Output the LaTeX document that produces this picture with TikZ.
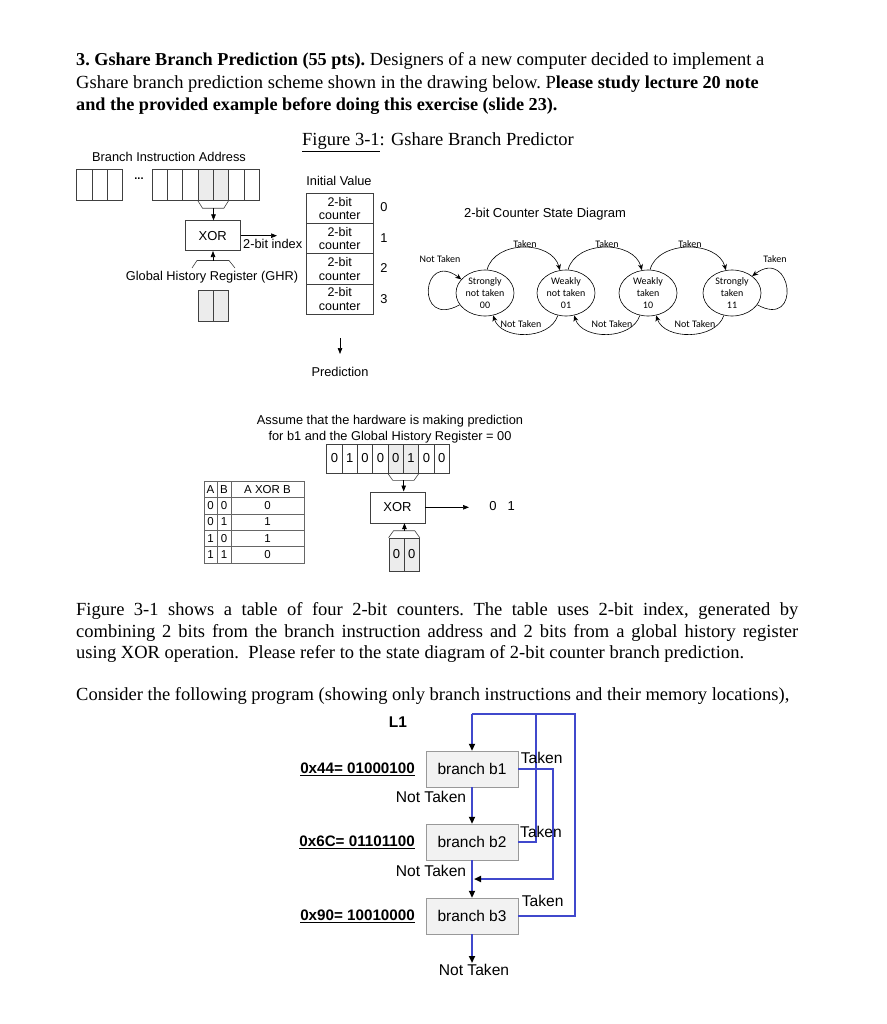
\documentclass[tikz,border=0pt]{standalone}
\usepackage{fontspec}
\setmainfont{Liberation Serif}
\setsansfont{Liberation Sans}
\newfontfamily\statefont{Carlito}
\usetikzlibrary{arrows.meta,calc,shapes.geometric}

\definecolor{shade}{RGB}{236,236,236}
\definecolor{boxfill}{RGB}{242,242,242}
\definecolor{linkblue}{RGB}{64,72,204}

\newcommand{\bodysize}{\fontsize{18.5}{22}\selectfont}
\newcommand{\labsize}{\fontsize{12.8}{14}\selectfont}
\newcommand{\bfx}[1]{{\fontsize{18.2}{22}\selectfont\bfseries #1}}

\tikzset{
  body/.style={font=\bodysize\frenchspacing, inner sep=0pt, anchor=base west},
  lab/.style={font=\sffamily\labsize, inner sep=0pt},
  regcell/.style={draw=black!75, line width=0.6pt, minimum width=15.3pt, minimum height=31pt, inner sep=0pt, font=\sffamily\fontsize{13}{14}\selectfont},
  hicell/.style={regcell, fill=shade},
  xorbox/.style={draw=black!75, line width=0.6pt, minimum width=55pt, minimum height=30pt, font=\sffamily\fontsize{13}{14}\selectfont},
  ctrcell/.style={draw=black!75, line width=0.6pt, minimum width=67.3pt, minimum height=30.25pt, inner sep=0pt, align=center, font=\sffamily\fontsize{12.5}{13.5}\selectfont},
  ttcell/.style={draw=black!60, line width=0.5pt, minimum height=16.4pt, inner sep=0pt, font=\sffamily\fontsize{11.5}{12}\selectfont},
  state/.style={ellipse, draw, line width=0.6pt, minimum width=58pt, minimum height=46pt, inner sep=0pt, align=center, font=\statefont\fontsize{10}{12}\selectfont},
  slab/.style={font=\statefont\fontsize{10}{11}\selectfont, inner sep=0pt},
  sarrow/.style={line width=0.6pt, -{Stealth[length=6pt,width=5pt]}},
  darrow/.style={line width=0.7pt, -{Triangle[length=6pt,width=4.5pt]}},
  bracket/.style={line width=0.6pt, draw=black!75},
  branchbox/.style={draw=black!40, fill=boxfill, minimum width=92pt, minimum height=36pt, font=\sffamily\fontsize{15.5}{17}\selectfont},
  addr/.style={font=\sffamily\bfseries\fontsize{15.2}{17}\selectfont, inner sep=0pt, anchor=east},
  linkline/.style={draw=linkblue, color=linkblue, line width=1.8pt},
  linkarrow/.style={linkline, -{Triangle[length=7pt,width=6pt,black]}},
  flab/.style={font=\sffamily\fontsize{15.6}{17}\selectfont, inner sep=0pt},
}

\begin{document}
\begin{tikzpicture}[x=1pt,y=1pt,yscale=-1]
\useasboundingbox (0,0) rectangle (886,1024);

% question text
\node[body] (h1) at (76,66) {\bfx{3. Gshare Branch Prediction (55 pts).} Designers of a new computer decided to implement a};
\node[body] (h2) at (76,89) {Gshare branch prediction scheme shown in the drawing below. P\bfx{lease study lecture 20 note}};
\node[body] (h3) at (76,111) {\bfx{and the provided example before doing this exercise (slide 23).}};
\node[font=\bodysize, inner sep=0pt] (fig) at (438,142) {\underline{Figure 3-1}: Gshare Branch Predictor};

% branch address and xor
\node[lab] (bia) at (169,157) {Branch Instruction Address};
\foreach \i in {1,2,3}
  \node[regcell] (l\i) at (69+15.3*\i,184.5) {};
\node[font=\sffamily\bfseries\fontsize{11}{12}\selectfont, inner sep=0pt] (dots) at (139,179) {...};
\foreach \i/\s in {1/regcell,2/regcell,3/regcell,4/hicell,5/hicell,6/regcell,7/regcell}
  \node[\s] (a\i) at (144.35+15.3*\i,184.5) {};
\draw[bracket] (a4.south west) -- ++(5,8) -- ($(a5.south east)+(-5,8)$) -- (a5.south east);
\coordinate (amid) at ($(a4.south east)+(0,8)$);
\node[xorbox] (xor1) at (212.7,235.7) {XOR};
\draw[darrow] (amid) -- (amid |- xor1.north);
\coordinate (idx) at (277,235.7);
\draw[darrow] (xor1.east) -- (idx);
\node[lab, anchor=north west] (idxlab) at (243,239) {2-bit index};

% global history register
\node[lab] (ghrlab) at (212,277) {Global History Register (GHR)};
\draw[bracket] (192,268) -- (197,260.5) -- (229,260.5) -- (235,268);
\coordinate (gmid) at (213,260.5);
\draw[darrow] (gmid) -- (gmid |- xor1.south);
\node[hicell] (g1) at (205.7,306) {};
\node[hicell] (g2) at (221,306) {};

% counter table
\node[lab] (init) at (339,181) {Initial Value};
\foreach \i in {0,...,3} {
  \node[ctrcell] (c\i) at (339.7,208.4+30.25*\i) {2-bit\\counter};
  \node[lab] (n\i) at (384,207.5+30.5*\i) {\i};
}
\coordinate (p0) at (340,338);
\coordinate (p1) at (340,354);
\draw[darrow] (p0) -- (p1);
\node[lab] (pred) at (340,372) {Prediction};

% state diagram
\node[lab, font=\sffamily\fontsize{13}{14}\selectfont] (sdtitle) at (545,214) {2-bit Counter State Diagram};
\node[state] (s0) at (485,293) {Strongly\\not taken\\00};
\node[state] (s1) at (566,293) {Weakly\\not taken\\01};
\node[state] (s2) at (648,293) {Weakly\\taken\\10};
\node[state] (s3) at (732,293) {Strongly\\taken\\11};
\foreach \a/\b/\x in {s0/s1/525,s1/s2/607,s2/s3/690} {
  \draw[sarrow] (\a.85) .. controls +(8,-30) and +(-8,-30) .. (\b.105);
  \node[slab] (tk\a) at (\x,244) {Taken};
}
\foreach \a/\b/\x in {s1/s0/521,s2/s1/612,s3/s2/695} {
  \draw[sarrow] (\a.250) .. controls +(-8,25) and +(8,25) .. (\b.-70);
  \node[slab] (nt\a) at (\x,324) {Not Taken};
}
\draw[sarrow] (s0.205) .. controls +(-45,25) and +(-40,-30) .. (s0.150);
\node[slab] (ntloop) at (440,259) {Not Taken};
\draw[sarrow] (s3.-25) .. controls +(45,25) and +(40,-30) .. (s3.40);
\node[slab] (tkloop) at (775,259) {Taken};

% example
\node[lab] (as1) at (390,421) {Assume that the hardware is making prediction};
\node[lab] (as2) at (390,437) {for b1 and the Global History Register = 00};
\foreach \i/\b/\s in {1/0/regcell,2/1/regcell,3/0/regcell,4/0/regcell,5/0/hicell,6/1/hicell,7/0/regcell,8/0/regcell}
  \node[\s, minimum width=15.33pt, minimum height=29pt] (r\i) at (319.07+15.33*\i,458.5) {\b};
\draw[bracket] (r5.south west) -- ++(5,7) -- ($(r6.south east)+(-5,7)$) -- (r6.south east);
\coordinate (rmid) at ($(r5.south east)+(0,7)$);
\node[xorbox, minimum height=31pt] (xor2) at (397.5,507.3) {XOR};
\draw[darrow] (rmid) -- (rmid |- xor2.north);
\coordinate (out2) at (469,507.3);
\draw[darrow] (xor2.east) -- (out2);
\node[lab, font=\sffamily\fontsize{13}{14}\selectfont] (res) at (502,506) {0\hspace{11pt}1};
\node[hicell, minimum height=33pt] (e1) at (396.5,554.5) {0};
\node[hicell, minimum height=33pt] (e2) at (411.8,554.5) {0};
\draw[bracket] (e1.north west) -- ++(5,-7) -- ($(e2.north east)+(-5,-7)$) -- (e2.north east);
\coordinate (emid) at ($(e1.north east)+(0,-7)$);
\draw[darrow] (emid) -- (emid |- xor2.south);

% truth table
\foreach \p/\q/\r [count=\k from 0] in {A/B/A XOR B,0/0/0,0/1/1,1/0/1,1/1/0} {
  \node[ttcell, minimum width=13pt] (ta\k) at (210.5,489.2+16.4*\k) {\p};
  \node[ttcell, minimum width=14pt] (tb\k) at (224,489.2+16.4*\k) {\q};
  \node[ttcell, minimum width=73pt] (tc\k) at (267.5,489.2+16.4*\k) {\r};
}

% description
\node[body] (d1) at (76,615) {\hbox to 722pt{Figure 3-1 shows a table of four 2-bit counters. The table uses 2-bit index, generated by}};
\node[body] (d2) at (76,637) {\hbox to 722pt{combining 2 bits from the branch instruction address and 2 bits from a global history register}};
\node[body] (d3) at (76,658) {using XOR operation.\ \ Please refer to the state diagram of 2-bit counter branch prediction.};
\node[body] (d4) at (76,700) {Consider the following program (showing only branch instructions and their memory locations),};

% program flow
\node[font=\sffamily\bfseries\fontsize{15.5}{17}\selectfont] (L1) at (398,722) {L1};
\node[branchbox] (b1) at (472,769) {branch b1};
\node[branchbox] (b2) at (472,842) {branch b2};
\node[branchbox] (b3) at (472,916) {branch b3};
\node[addr] (ad1) at (415,769) {\underline{0x44= 01000100}};
\node[addr] (ad2) at (415,842) {\underline{0x6C= 01101100}};
\node[addr] (ad3) at (415,916) {\underline{0x90= 10010000}};
\coordinate (tl) at (472,714);
\coordinate (tr) at (575,714);
\coordinate (j23) at (474,879);
\coordinate (fin) at (472,963);
\draw[linkarrow] (b1.south) -- (b2.north);
\draw[linkarrow] (b2.south) -- (b3.north);
\draw[linkarrow] (b3.south) -- (fin);
\draw[linkarrow] (b1.east) -- ++(35,0) |- (j23);
\draw[linkline] (b2.east) -- ++(18,0) |- (tl);
\draw[linkline] (b3.east) -| (tr) -- (tl);
\draw[linkarrow] (tl) -- (b1.north);
\node[flab] (nt1) at (431,797) {Not Taken};
\node[flab] (nt2) at (431,870.5) {Not Taken};
\node[flab] (nt3) at (474,970) {Not Taken};
\node[flab] (tk1) at (541.7,758) {Taken};
\node[flab] (tk2) at (541,831.5) {Taken};
\node[flab] (tk3) at (542.7,901) {Taken};
\end{tikzpicture}
\end{document}
